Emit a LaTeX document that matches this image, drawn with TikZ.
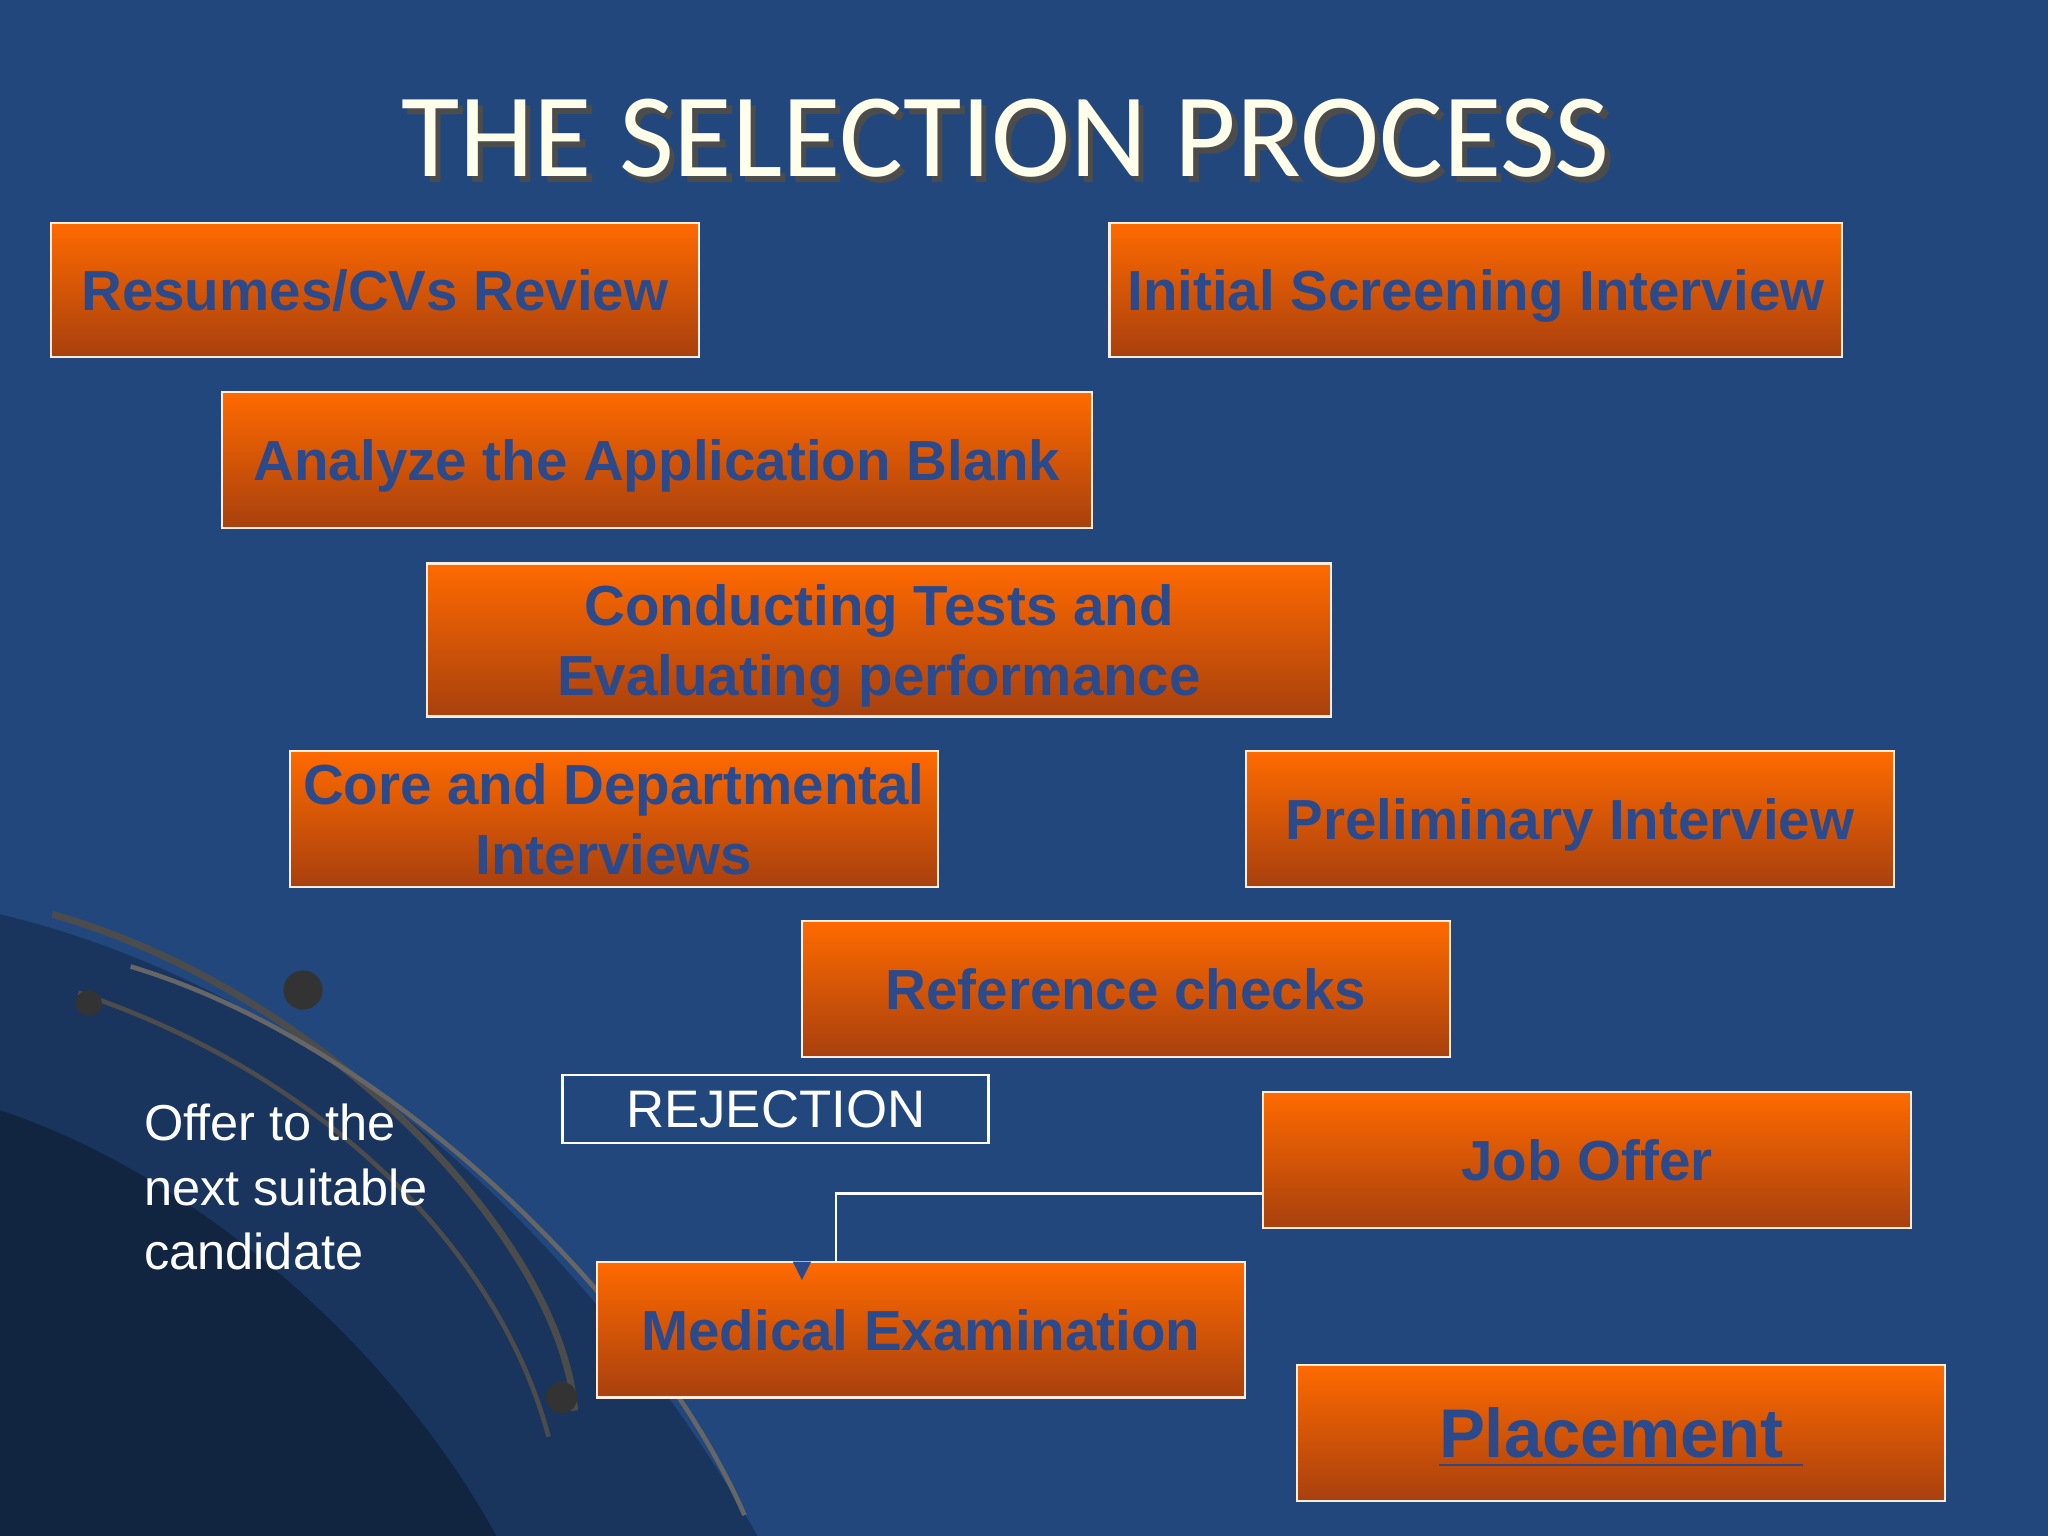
\documentclass[tikz,border=0pt]{standalone}
\usepackage{fontspec}
\setmainfont{Liberation Sans}
\newfontfamily\titlefont{Carlito}
\definecolor{bg}{HTML}{22477D}
\definecolor{txt}{HTML}{2A4A8C}
\definecolor{otop}{HTML}{FF6A00}
\definecolor{obot}{HTML}{A8400E}
\begin{document}
\begin{tikzpicture}[x=0.01cm,y=-0.01cm,
  obox/.style={draw=white!85!orange,line width=0.5pt,top color=otop,bottom color=obot,inner sep=0pt,align=center,
    font=\fontsize{12.3}{15.2}\selectfont\bfseries,text=txt,text depth=-5pt},
  wtxt/.style={text=white,font=\fontsize{11}{14}\selectfont}]
\useasboundingbox (0,0) rectangle (1568,1176);
\fill[bg] (0,0) rectangle (1568,1176);
% dark swirl bottom-left
\fill[black,opacity=0.25] (0,700) .. controls (250,760) and (450,950) .. (580,1176) -- (0,1176) -- cycle;
\fill[black,opacity=0.3] (0,850) .. controls (150,900) and (300,1030) .. (380,1176) -- (0,1176) -- cycle;
\draw[black!70,line width=1.5pt] (40,700) .. controls (250,760) and (430,950) .. (440,1080);
\draw[black!70,line width=1pt] (60,760) .. controls (240,820) and (380,950) .. (420,1100);
\draw[black!60,line width=1pt] (100,740) .. controls (300,800) and (500,1000) .. (570,1160);
\fill[black!80] (68,768) circle (10);
\fill[black!80] (232,758) circle (15);
\fill[black!80] (430,1070) circle (12);
% title
\node[text=black!70,font=\titlefont\fontsize{26}{30}\selectfont] at (774,110) {THE SELECTION PROCESS};
\node[text=white!92!yellow,font=\titlefont\fontsize{26}{30}\selectfont] (title) at (770,106) {THE SELECTION PROCESS};
% boxes
\newcommand{\obox}[6]{\node[obox,minimum width=#4*0.01cm,minimum height=#5*0.01cm] (#1) at (#2,#3) {#6};}
\obox{resume}{287}{222}{496}{103}{Resumes/CVs Review}
\obox{initial}{1130}{222}{561}{103}{Initial Screening Interview}
\obox{analyze}{503}{352}{666}{104}{Analyze the Application Blank}
\obox{tests}{673}{490}{692}{117}{Conducting Tests and\\Evaluating performance}
\obox{core}{470}{627}{496}{104}{Core and Departmental\\Interviews}
\obox{prelim}{1202}{627}{496}{104}{Preliminary Interview}
\obox{refer}{862}{757}{496}{104}{Reference checks}
\obox{job}{1215}{888}{496}{104}{Job Offer}
\obox{medical}{705}{1018}{496}{104}{Medical Examination}
\node[obox,minimum width=4.96cm,minimum height=1.04cm,font=\fontsize{15}{18}\selectfont\bfseries] (place) at (1241,1097) {\underline{Placement\ }};
\node[draw=white,line width=0.6pt,minimum width=3.26cm,minimum height=0.52cm,wtxt,font=\fontsize{11.5}{13}\selectfont] (rej) at (594,849) {REJECTION};
\node[wtxt,align=left,anchor=north west] (offer) at (98,833) {Offer to the\\next suitable\\candidate};
% connector
\coordinate (c1) at (640,914);
\draw[white,line width=0.6pt] (job.west |- c1) -- (c1) -- (c1 |- medical.north);
\fill[txt] (607,966) -- (621,966) -- (614,980) -- cycle;
\end{tikzpicture}
\end{document}
